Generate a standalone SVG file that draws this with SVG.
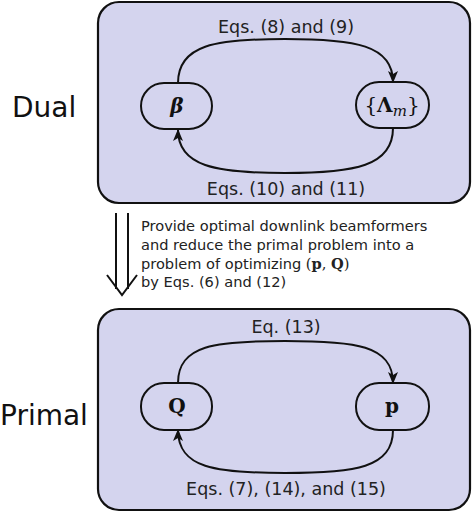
<svg xmlns="http://www.w3.org/2000/svg" width="474" height="513" viewBox="0 0 474 513">
<style>
.panel{fill:#d4d4ee;stroke:#111;stroke-width:2.2}
.node{fill:none;stroke:#111;stroke-width:2}
.edge{fill:none;stroke:#111;stroke-width:2}
.lbl{font-family:"DejaVu Sans",sans-serif;font-size:17.5px;fill:#222;text-anchor:middle}
.side{font-family:"DejaVu Sans",sans-serif;font-size:28px;fill:#111}
.note{font-family:"DejaVu Sans",sans-serif;font-size:14.6px;fill:#222}
.math{font-family:"DejaVu Serif","Liberation Serif",serif;font-size:20px;fill:#111;text-anchor:middle}
</style>
<defs>
<marker id="head" viewBox="0 0 12 10" refX="11" refY="5" markerWidth="12" markerHeight="10" markerUnits="userSpaceOnUse" orient="auto">
<path d="M0,0 L12,5 L0,10 L3,5 Z" fill="#111"/>
</marker>
</defs>
<text class="side" x="12" y="117">Dual</text>
<text class="side" x="0" y="425">Primal</text>
<g id="dual-panel">
<rect class="panel" x="98" y="2" width="372" height="201" rx="21"/>
</g>
<g id="primal-panel">
<rect class="panel" x="98" y="309" width="372" height="201" rx="21"/>
</g>
<g id="node-beta">
<rect class="node" x="141" y="83" width="71" height="46" rx="23"/>
<text class="math" x="177" y="113" font-weight="bold" font-style="italic">β</text>
</g>
<g id="node-lambda">
<rect class="node" x="356" y="82" width="73" height="46" rx="23"/>
<text class="math" x="392" y="112">{<tspan font-weight="bold">Λ</tspan><tspan font-style="italic" font-size="15" dy="4">m</tspan><tspan dy="-4">}</tspan></text>
</g>
<g id="node-Q">
<rect class="node" x="141" y="383" width="71" height="47" rx="23"/>
<text class="math" x="177" y="413" font-weight="bold">Q</text>
</g>
<g id="node-p">
<rect class="node" x="356" y="383" width="73" height="47" rx="23"/>
<text class="math" x="392" y="413" font-weight="bold">p</text>
</g>
<g id="connectors">
<path class="edge" d="M178,83 C178,45 215,39 285,39 S393,45 393,82" marker-end="url(#head)"/>
<path class="edge" d="M393,128 C393,166 355,173 285,173 S178,166 178,130" marker-end="url(#head)"/>
<path class="edge" d="M178,383 C178,345 215,341 285,341 S393,345 393,383" marker-end="url(#head)"/>
<path class="edge" d="M393,430 C393,468 355,473 285,473 S178,468 178,430" marker-end="url(#head)"/>
<path class="edge" d="M116,213 V289 M128,213 V289 M107,275 L122,295 L137,275"/>
</g>
<g id="labels">
<text class="lbl" x="286" y="33">Eqs. (8) and (9)</text>
<text class="lbl" x="286" y="195">Eqs. (10) and (11)</text>
<text class="lbl" x="286" y="333">Eq. (13)</text>
<text class="lbl" x="286" y="495">Eqs. (7), (14), and (15)</text>
<text class="note" x="141" y="231">Provide optimal downlink beamformers</text>
<text class="note" x="141" y="250">and reduce the primal problem into a</text>
<text class="note" x="141" y="268.5">problem of optimizing <tspan font-family="DejaVu Serif, Liberation Serif, serif">(<tspan font-weight="bold">p</tspan>, <tspan font-weight="bold">Q</tspan>)</tspan></text>
<text class="note" x="141" y="287">by Eqs. (6) and (12)</text>
</g>
</svg>
